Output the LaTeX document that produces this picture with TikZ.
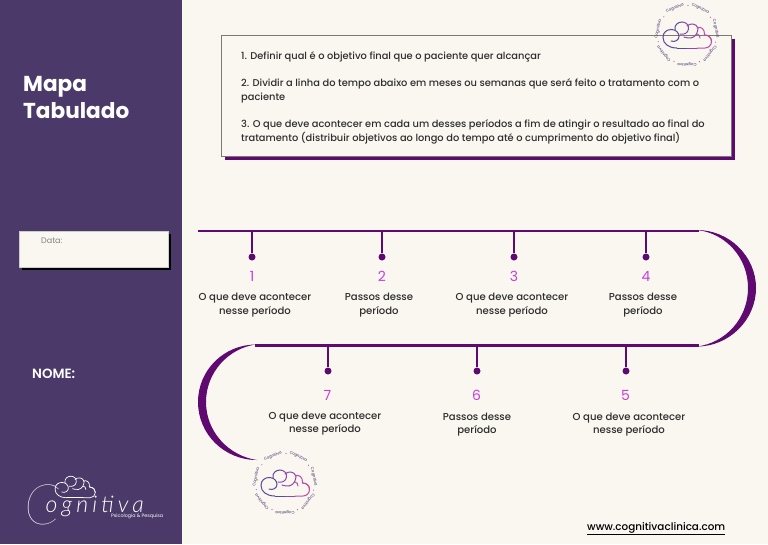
\documentclass[tikz,border=0pt]{standalone}
\usepackage{fontspec}
\setmainfont{Poppins}
\newfontfamily\medfont{Poppins Medium}
\newfontfamily\semifont{Poppins SemiBold}
\newfontfamily\scriptC[ItalicFont={Lato Hairline Italic}]{Lato Hairline}
\newfontfamily\scriptish[LetterSpace=18,ItalicFont={Lato Light Italic}]{Lato Light}
\definecolor{pagebg}{HTML}{FAF7F1}
\definecolor{sidebar}{HTML}{4B3A69}
\definecolor{spine}{HTML}{5F0A70}
\definecolor{numcol}{HTML}{C63FDC}
\definecolor{bodytext}{HTML}{2E2E2E}
\definecolor{boxline}{HTML}{7A7A72}
\definecolor{cloudA}{HTML}{5A4A9E}
\definecolor{cloudB}{HTML}{8A4AA8}
\definecolor{cloudC}{HTML}{BE4DA8}
\definecolor{ringtext}{HTML}{5A4A7A}
\tikzset{
  x=1pt,y=-1pt,
  stem/.style={draw=spine,line width=1.5pt},
  spineline/.style={draw=spine,line width=2.4pt},
  crescent/.style={fill=spine,draw=none},
  dotnode/.style={circle,fill=spine,minimum size=7pt,inner sep=0pt},
  numlabel/.style={text=numcol,font=\fontsize{14}{14}\selectfont,inner sep=0pt},
  steplabel/.style={text=bodytext,align=center,inner sep=0pt,font=\medfont\fontsize{10.1}{13.6}\selectfont},
  paper/.style={fill=pagebg,draw=boxline,line width=1pt},
  ringlabel/.style={text=ringtext,font=\medfont\fontsize{3.9}{4}\selectfont,inner sep=0pt},
  cloudline/.style={line width=1pt,line cap=round},
}
\newcommand{\cloudshape}[3]{%
  \draw[#1,cloudline] (-10,13) -- (0,13);
  \draw[#2,cloudline] (0,13) -- (10,13);
  \draw[#3,cloudline] (10,13) -- (18,13) arc[start angle=90,end angle=-90,radius=6.5] ;
  \draw[#1,cloudline] (-10,13) .. controls (-18,13) and (-24,9) .. (-24,2.5)
     .. controls (-24,-3) and (-20,-5.5) .. (-15.5,-5.5) .. controls (-11,-5.5) and (-8,-2) .. (-8,1.5)
     .. controls (-8,5) and (-12,7.5) .. (-16,6);
  \draw[#1,cloudline] (-12,-5) .. controls (-13,-10) and (-9,-13) .. (-5,-13);
  \draw[#2,cloudline] (-5,-13) .. controls (-1,-13) and (2,-10) .. (1.5,-6)
     .. controls (1,-2) and (-3,0) .. (-7,-1);
  \draw[#2,cloudline] (0,-9) .. controls (3,-12) and (9,-12) .. (11,-7)
     .. controls (11,-3) and (9,2) .. (4,3) .. controls (1,3.5) and (-3,2) .. (-3,2);
  \draw[#3,cloudline] (10,-7) .. controls (14,-9) and (18,-6) .. (17.5,0);
  \draw[#3,cloudline] (10,-1) .. controls (12,-1) and (13,1) .. (13,3);
  \draw[#3,cloudline] (17.5,0) .. controls (22,0) and (24.5,3) .. (24.5,6.5);
}
\newcommand{\cogbadge}[3]{%
  \begin{scope}[shift={(#2,#3)}]
    \cloudshape{cloudA}{cloudB}{cloudC}
    \foreach \a in {114,63,12,-39,-90,-141,-192} {
      \node[ringlabel,rotate=\a-90] (#1-t\a) at ({-\a}:29.5) {Cognitiva};
    }
    \foreach \a in {88,37,-14,-65,-116,-167,-218} {
      \node[circle,fill=cloudC,minimum size=1.2pt,inner sep=0pt] (#1-d\a) at ({-\a}:29.5) {};
    }
  \end{scope}
}
\begin{document}
\begin{tikzpicture}
\useasboundingbox (0,0) rectangle (768,544);
\fill[pagebg] (0,0) rectangle (768,544);
\fill[sidebar] (0,0) rectangle (182,544);

% Title and side fields
\node[anchor=north west,text=white,align=left,inner sep=0pt,font=\fontsize{21.6}{27.5}\selectfont\bfseries] (title) at (23,76) {Mapa\\Tabulado};
\node[anchor=west,text=white,inner sep=0pt,font=\semifont\fontsize{13.4}{14}\selectfont] (nome) at (32,374) {NOME:};
\fill[black] (22,234) rectangle (171,270);
\node[paper,draw=white!60!gray,anchor=north west,minimum width=148.5pt,minimum height=36pt,inner sep=0pt] (databox) at (19,231) {};
\node[anchor=west,text=gray,inner sep=0pt,font=\fontsize{8}{9}\selectfont] (datalabel) at (41,241) {Data:};

% Instruction box
\fill[spine] (225,39) rectangle (735,160);
\node[paper,anchor=north west,minimum width=510pt,minimum height=121pt,inner sep=0pt] (infobox) at (221,35) {};
\node[anchor=north west,text=bodytext,align=left,inner sep=0pt,font=\medfont\fontsize{9.85}{14}\selectfont] (info) at (241,51) {%
1. Definir qual é o objetivo final que o paciente quer alcançar\\[13pt]
2. Dividir a linha do tempo abaixo em meses ou semanas que será feito o tratamento com o\\
paciente\\[13pt]
3. O que deve acontecer em cada um desses períodos a fim de atingir o resultado ao final do\\
tratamento (distribuir objetivos ao longo do tempo até o cumprimento do objetivo final)};

% Timeline
\coordinate (topstart) at (198,231);
\coordinate (topend) at (699,231);
\coordinate (midend) at (699,345.5);
\coordinate (midstart) at (255,345.5);
\draw[spineline] (topstart) -- (topend);
\draw[spineline] (midstart) -- (midend);
\fill[crescent] (697,230) .. controls (729,230) and (756,256) .. (756,288)
   .. controls (756,320) and (729,346.5) .. (697,346.5)
   .. controls (725,343) and (748,319) .. (748,288)
   .. controls (748,257) and (725,233) .. (697,230) -- cycle;
\fill[crescent] (256,344.5) .. controls (224,344.5) and (198,370) .. (198,402)
   .. controls (198,434) and (224,460) .. (257,460)
   .. controls (229,456) and (206,432) .. (206,402)
   .. controls (206,372) and (229,348) .. (256,344.5) -- cycle;

\foreach \n/\x/\lab/\lx in {%
  1/252/{O que deve acontecer\\nesse período}/255,
  2/382/{Passos desse\\período}/379,
  3/514/{O que deve acontecer\\nesse período}/512,
  4/646/{Passos desse\\período}/643} {
  \coordinate (base\n) at (\x,231);
  \node[dotnode] (dot\n) at (\x,257) {};
  \draw[stem] (base\n) -- (dot\n);
  \node[numlabel] (num\n) at (\x,276.5) {\n};
  \node[steplabel,anchor=north] (lab\n) at (\lx,293) {\lab};
}
\foreach \n/\x/\lab/\lx/\ly in {%
  5/626/{O que deve acontecer\\nesse período}/629/412.5,
  6/477/{Passos desse\\período}/477/412.5,
  7/328/{O que deve acontecer\\nesse período}/325/411.5} {
  \coordinate (base\n) at (\x,345);
  \node[dotnode] (dot\n) at (\x,371) {};
  \draw[stem] (base\n) -- (dot\n);
  \node[numlabel] (num\n) at (\x-0.5,395.5) {\n};
  \node[steplabel,anchor=north] (lab\n) at (\lx,\ly) {\lab};
}

% Badges
\cogbadge{badgetop}{687}{35}
\cogbadge{badgelow}{285}{483}

% Brand mark
\begin{scope}[shift={(75,487)},scale=0.83,cloudline/.style={line width=0.7pt,line cap=round}]
  \cloudshape{white}{white}{white}
\end{scope}
\node[anchor=base west,text=white,inner sep=0pt] (brand) at (24,524) {{\scriptC\itshape\fontsize{56}{56}\selectfont C}\kern-14pt\raisebox{12pt}{\scriptish\itshape\fontsize{23}{23}\selectfont ognitiva}};
\node[anchor=west,text=white,inner sep=0pt,font=\fontsize{4.8}{5}\selectfont] (brandsub) at (111,516.5) {Psicologia \& Pesquisa};

% Footer
\node[anchor=base west,text=black,inner sep=0pt,font=\medfont\fontsize{10.4}{10}\selectfont] (web) at (587,530) {www.cognitivaclinica.com};
\draw[black,line width=0.7pt] ([yshift=-1.5pt]web.south west) -- ([yshift=-1.5pt]web.south east);
\end{tikzpicture}
\end{document}
